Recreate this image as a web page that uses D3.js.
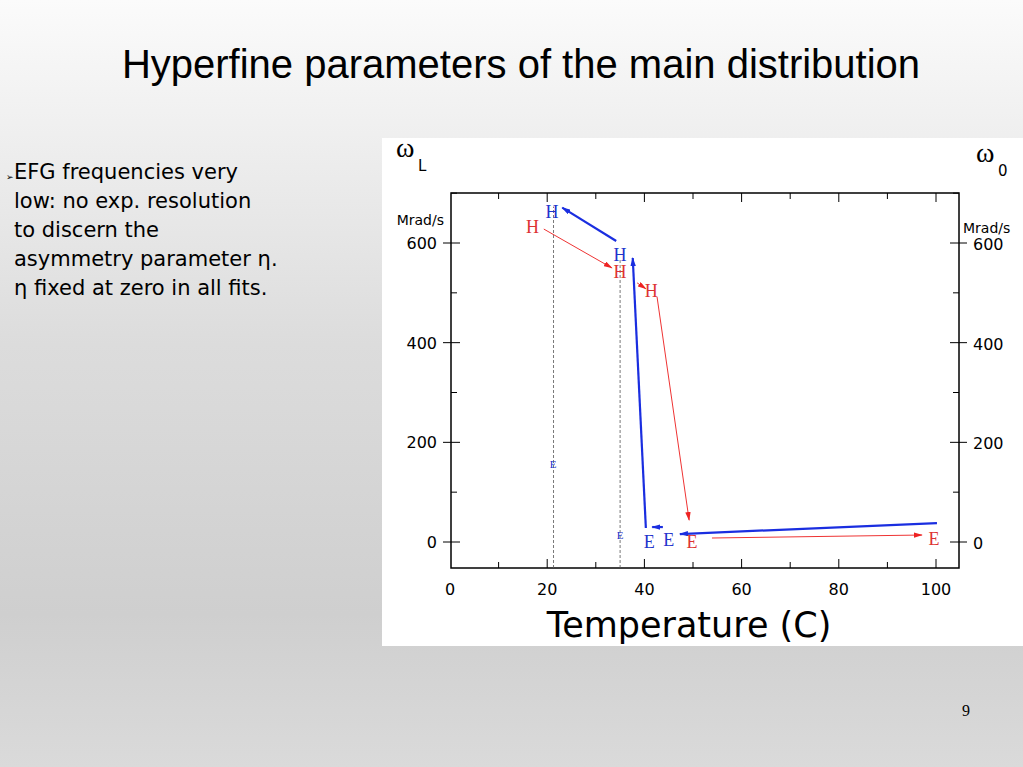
<!DOCTYPE html>
<html><head><meta charset="utf-8">
<script src="https://cdn.jsdelivr.net/npm/d3@7"></script>
<style>
body{margin:0;width:1023px;height:767px;overflow:hidden;background:linear-gradient(#fbfbfb 0%,#dcdcdc 45%,#cfcfcf 80%,#dadada 100%);}
</style></head><body>
<svg id="c" width="1023" height="767"></svg>
<script>
// data in (temperature, Mrad/s)
const xTicks = [0, 20, 40, 60, 80, 100];
const yTicks = [0, 200, 400, 600];
const labels = [
  {t: 21, v: 663, s: 'H', c: '#2233cc', f: 18},
  {t: 17, v: 632, s: 'H', c: '#dd3333', f: 18},
  {t: 35, v: 576, s: 'H', c: '#2233cc', f: 18},
  {t: 35, v: 542, s: 'H', c: '#dd3333', f: 18},
  {t: 41.4, v: 504, s: 'H', c: '#dd3333', f: 18},
  {t: 21.2, v: 157, s: 'E', c: '#2233cc', f: 11},
  {t: 35, v: 14, s: 'E', c: '#2233cc', f: 11},
  {t: 41, v: 0, s: 'E', c: '#2233cc', f: 18},
  {t: 45, v: 4, s: 'E', c: '#2233cc', f: 18},
  {t: 49.8, v: 0, s: 'E', c: '#dd3333', f: 18},
  {t: 99.6, v: 6, s: 'E', c: '#dd3333', f: 18}
];
const arrowsBlue = [
  [[34.2, 604], [23.1, 671]],
  [[40.3, 28], [37.6, 570]],
  [[43.8, 30], [41.6, 30]],
  [[100.2, 38], [47.3, 16]]
];
const arrowsRed = [
  [[19.3, 628], [33.3, 550]],
  [[38.5, 520], [40.3, 508]],
  [[42.6, 492], [49.2, 44]],
  [[53.9, 8], [97.1, 14]]
];
const guides = [[21.3, 663], [35, 560]];

const svg = d3.select('#c');
svg.append('text').attr('x', 521).attr('y', 78).attr('text-anchor', 'middle')
  .attr('font-family', 'Liberation Sans, Arial').attr('font-size', 40).text('Hyperfine parameters of the main distribution');

const bullet = ['EFG frequencies very', 'low: no exp. resolution', 'to discern the', 'asymmetry parameter η.', 'η fixed at zero in all fits.'];
const bt = svg.append('text').attr('font-family', 'DejaVu Sans').attr('font-size', 21);
bullet.forEach((l, i) => bt.append('tspan').attr('x', 14).attr('y', 179 + i * 29).text(l));
svg.append('text').attr('x', 6).attr('y', 180).attr('font-size', 9).text('➢');
svg.append('text').attr('x', 966).attr('y', 716).attr('text-anchor', 'middle')
  .attr('font-family', 'Liberation Serif').attr('font-size', 16).text('9');

// chart panel
svg.append('rect').attr('x', 382).attr('y', 138).attr('width', 641).attr('height', 508).attr('fill', '#fff');
const x = d3.scaleLinear().domain([0, 100]).range([450, 936]);
const y = d3.scaleLinear().domain([0, 600]).range([542, 243]);
const L = 451, R = 959, T = 193, B = 568;
const g = svg.append('g').attr('font-family', 'DejaVu Sans');
g.append('rect').attr('x', L).attr('y', T).attr('width', R - L).attr('height', B - T)
  .attr('fill', 'none').attr('stroke', '#000').attr('stroke-width', 1.5);

d3.range(10, 101, 10).forEach(v => {
  const len = v % 20 === 0 ? 9 : 6;
  g.append('line').attr('x1', x(v)).attr('x2', x(v)).attr('y1', B).attr('y2', B - len).attr('stroke', '#000');
  g.append('line').attr('x1', x(v)).attr('x2', x(v)).attr('y1', T).attr('y2', T + len).attr('stroke', '#000');
});
d3.range(-100, 701, 100).filter(v => y(v) > T && y(v) < B).forEach(v => {
  const len = v % 200 === 0 ? 9 : 6;
  g.append('line').attr('x1', L).attr('x2', L + len).attr('y1', y(v)).attr('y2', y(v)).attr('stroke', '#000');
  g.append('line').attr('x1', R).attr('x2', R - len).attr('y1', y(v)).attr('y2', y(v)).attr('stroke', '#000');
});
xTicks.forEach(v => g.append('text').attr('x', x(v)).attr('y', B + 27).attr('text-anchor', 'middle')
  .attr('font-size', 16).text(v));
yTicks.forEach(v => {
  g.append('text').attr('x', L - 14).attr('y', y(v) + 6).attr('text-anchor', 'end').attr('font-size', 16).text(v);
  g.append('text').attr('x', R + 14).attr('y', y(v) + 7).attr('font-size', 16).text(v);
  g.append('line').attr('x1', L - 8).attr('x2', L).attr('y1', y(v)).attr('y2', y(v)).attr('stroke', '#000');
  g.append('line').attr('x1', R).attr('x2', R + 8).attr('y1', y(v)).attr('y2', y(v)).attr('stroke', '#000');
});
g.append('text').attr('x', 444).attr('y', 225).attr('text-anchor', 'end').attr('font-size', 14).text('Mrad/s');
g.append('text').attr('x', 963).attr('y', 233).attr('font-size', 14).text('Mrad/s');
g.append('text').attr('x', 689).attr('y', 637).attr('text-anchor', 'middle').attr('font-size', 35).text('Temperature (C)');
const om = (xx, yy, sub) => {
  g.append('text').attr('x', xx).attr('y', yy).attr('font-family', 'Liberation Serif').attr('font-size', 28).text('ω');
  g.append('text').attr('x', xx + 22).attr('y', yy + 14).attr('font-size', 15).text(sub);
};
om(396, 157, 'L');
om(976, 162, '0');

// guides
guides.forEach(([t, v]) => g.append('line').attr('x1', x(t)).attr('x2', x(t)).attr('y1', B).attr('y2', y(v) - 5)
  .attr('stroke', '#555').attr('stroke-width', 0.8).attr('stroke-dasharray', '3,2'));

const defs = svg.append('defs');
[['ab', '#1a2ee0', 9], ['ar', '#ee2222', 9]].forEach(([id, c, s]) => defs.append('marker').attr('id', id)
  .attr('viewBox', '0 0 10 10').attr('refX', 9).attr('refY', 5).attr('markerWidth', s).attr('markerHeight', s * 0.6)
  .attr('markerUnits', 'userSpaceOnUse').attr('orient', 'auto').attr('preserveAspectRatio', 'none')
  .append('path').attr('d', 'M0,0L10,5L0,10z').attr('fill', c));
const line = d3.line().x(d => x(d[0])).y(d => y(d[1]));
arrowsBlue.forEach(a => g.append('path').attr('d', line(a)).attr('stroke', '#1a2ee0').attr('stroke-width', 2.2)
  .attr('fill', 'none').attr('marker-end', 'url(#ab)'));
arrowsRed.forEach(a => g.append('path').attr('d', line(a)).attr('stroke', '#ee3333').attr('stroke-width', 1)
  .attr('fill', 'none').attr('marker-end', 'url(#ar)'));

labels.forEach(d => g.append('text').attr('x', x(d.t)).attr('y', y(d.v) + d.f * 0.35).attr('text-anchor', 'middle')
  .attr('font-family', 'Liberation Serif').attr('font-size', d.f).attr('fill', d.c).text(d.s));
</script>
</body></html>
